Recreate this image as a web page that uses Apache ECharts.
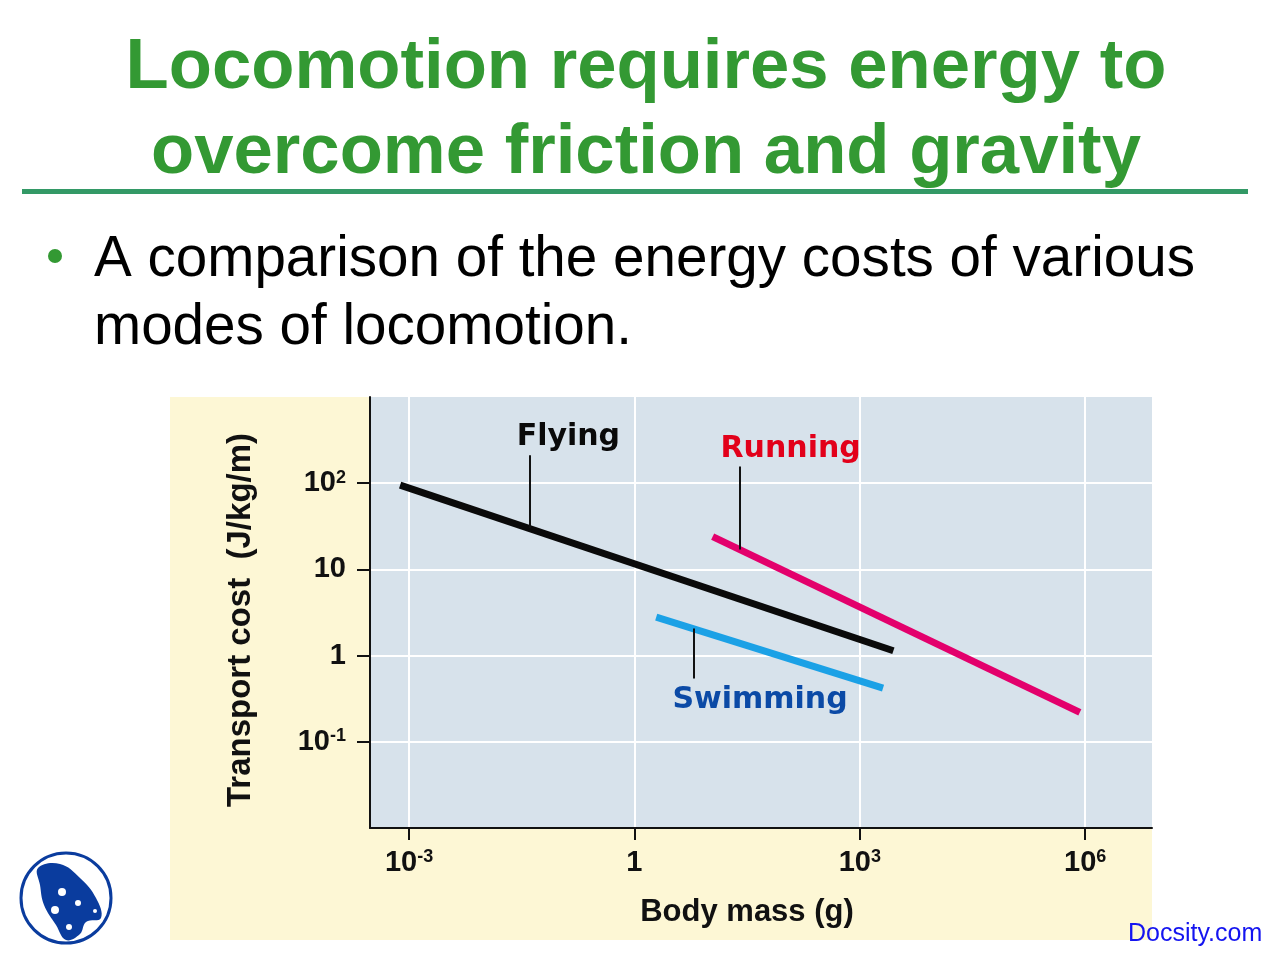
<!DOCTYPE html>
<html>
<head>
<meta charset="utf-8">
<script src="https://cdn.jsdelivr.net/npm/echarts@6/dist/echarts.min.js"></script>
<style>
  html, body { margin: 0; padding: 0; background: #fff; }
  #chart { width: 1280px; height: 960px; }
</style>
</head>
<body>
<div id="chart"></div>
<script>
// body mass (g) and transport cost (J/kg/m), end points of each fitted line
const flyingMass = [0.00076, 2800];
const flyingCost = [95, 1.14];
const runningMass = [11, 850000];
const runningCost = [24, 0.22];
const swimmingMass = [1.95, 2040];
const swimmingCost = [2.8, 0.42];

// tick values
const massTicks = [0.001, 1, 1000, 1000000];
const costTicks = [0.1, 1, 10, 100];

// callouts: leader line (mass, cost from, cost to) and label anchor (mass, cost)
const flyingLeader = [0.04, 30, 211];
const runningLeader = [25.1, 17, 156];
const swimmingLeader = [6.12, 2.06, 0.542];
const flyingLabelAt = [0.132, 340];
const runningLabelAt = [120, 245];
const swimmingLabelAt = [47, 0.3];

const sans = "'Liberation Sans', Arial, Helvetica, sans-serif";
const heavy = "'DejaVu Sans', sans-serif";

function zip(xs, ys) {
  return xs.map((x, i) => [x, ys[i]]);
}

function powLabel(v) {
  const e = Math.round(Math.log10(v));
  if (e === 0) return "{b|1}";
  if (e === 1) return "{b|10}";
  return "{b|10}{s|" + e + "}";
}

const tickRich = {
  b: { fontSize: 29, fontWeight: "bold", fontFamily: sans, color: "#111" },
  s: { fontSize: 18, fontWeight: "bold", fontFamily: sans, color: "#111", verticalAlign: "top" }
};

function callout(name, color, leader, at) {
  return {
    markLine: {
      silent: true,
      symbol: ["none", "none"],
      label: { show: false },
      lineStyle: { color: "#111", width: 2, type: "solid" },
      data: [[{ coord: [leader[0], leader[1]] }, { coord: [leader[0], leader[2]] }]]
    },
    markPoint: {
      silent: true,
      symbol: "circle",
      symbolSize: 0,
      label: {
        show: true,
        position: "inside",
        formatter: name,
        color: color,
        fontSize: 30,
        fontWeight: "bold",
        fontFamily: heavy
      },
      data: [{ coord: at }]
    }
  };
}

const chart = echarts.init(document.getElementById("chart"));

const lineSeries = (name, data, color, width, leader, at, labelColor) =>
  Object.assign(
    {
      name: name,
      type: "line",
      data: data,
      symbol: "none",
      silent: true,
      lineStyle: { color: color, width: width, cap: "butt" },
      z: 3
    },
    callout(name, labelColor, leader, at)
  );

chart.setOption({
  backgroundColor: "#fff",
  animation: false,
  graphic: [
    {
      type: "rect",
      z: -1,
      shape: { x: 170, y: 397, width: 982, height: 543 },
      style: { fill: "#fdf7d5" }
    },
    {
      type: "text",
      x: 646,
      y: 26,
      style: {
        text: "Locomotion requires energy to\novercome friction and gravity",
        fill: "#339933",
        font: "bold 70.7px " + sans,
        lineHeight: 85,
        align: "center"
      }
    },
    {
      type: "rect",
      shape: { x: 22, y: 189, width: 1226, height: 5 },
      style: { fill: "#339966" }
    },
    {
      type: "circle",
      shape: { cx: 55, cy: 256, r: 7 },
      style: { fill: "#339933" }
    },
    {
      type: "text",
      x: 94,
      y: 226,
      style: {
        text: "A comparison of the energy costs of various\nmodes of locomotion.",
        fill: "#000",
        font: "56.6px " + sans,
        lineHeight: 68
      }
    },
    {
      type: "text",
      x: 1128,
      y: 922,
      style: { text: "Docsity.com", fill: "#1414f0", font: "25px " + sans }
    },
    {
      type: "group",
      children: [
        {
          type: "circle",
          shape: { cx: 66, cy: 898, r: 45 },
          style: { fill: "#fff", stroke: "#0a3c9e", lineWidth: 3 }
        },
        {
          type: "polygon",
          shape: {
            smooth: 0.4,
            points: [[38, 868], [60, 864], [80, 878], [96, 898], [101, 918], [86, 922], [80, 934], [66, 940], [56, 925], [44, 905], [40, 885]]
          },
          style: { fill: "#0a3c9e" }
        },
        { type: "circle", shape: { cx: 62, cy: 892, r: 4 }, style: { fill: "#fff" } },
        { type: "circle", shape: { cx: 78, cy: 903, r: 3 }, style: { fill: "#fff" } },
        { type: "circle", shape: { cx: 55, cy: 910, r: 4 }, style: { fill: "#fff" } },
        { type: "circle", shape: { cx: 95, cy: 911, r: 2 }, style: { fill: "#fff" } },
        { type: "circle", shape: { cx: 69, cy: 927, r: 3 }, style: { fill: "#fff" } }
      ]
    }
  ],
  grid: {
    left: 370,
    top: 397,
    right: 128,
    bottom: 132,
    show: true,
    backgroundColor: "#d7e2eb",
    borderWidth: 0
  },
  xAxis: {
    type: "log",
    logBase: 10,
    min: Math.pow(10, -3.52),
    max: Math.pow(10, 6.89),
    name: "Body mass (g)",
    nameLocation: "middle",
    nameGap: 69,
    nameTextStyle: { fontSize: 31, fontWeight: "bold", fontFamily: sans, color: "#111", padding: [0, 28, 0, 0] },
    axisLine: { show: true, onZero: false, lineStyle: { color: "#111", width: 2 } },
    axisTick: { show: true, customValues: massTicks, length: 12, lineStyle: { color: "#111", width: 2 } },
    axisLabel: { customValues: massTicks, margin: 20, formatter: powLabel, rich: tickRich },
    splitLine: { show: true, lineStyle: { color: "#fff", width: 2 } },
    minorTick: { show: false },
    minorSplitLine: { show: false }
  },
  yAxis: {
    type: "log",
    logBase: 10,
    min: 0.01,
    max: 1000,
    name: "Transport cost  (J/kg/m)",
    nameLocation: "middle",
    nameGap: 113,
    nameTextStyle: { fontSize: 33, fontWeight: "bold", fontFamily: sans, color: "#111", padding: [0, 15, 0, 0] },
    axisLine: { show: true, onZero: false, lineStyle: { color: "#111", width: 2 } },
    axisTick: { show: true, customValues: costTicks, length: 13, lineStyle: { color: "#111", width: 2 } },
    axisLabel: { customValues: costTicks, margin: 24, formatter: powLabel, rich: tickRich },
    splitLine: { show: true, lineStyle: { color: "#fff", width: 2 } },
    minorTick: { show: false },
    minorSplitLine: { show: false }
  },
  series: [
    lineSeries("Flying", zip(flyingMass, flyingCost), "#0a0a0a", 7, flyingLeader, flyingLabelAt, "#0a0a0a"),
    lineSeries("Running", zip(runningMass, runningCost), "#e3006c", 7, runningLeader, runningLabelAt, "#e2001a"),
    lineSeries("Swimming", zip(swimmingMass, swimmingCost), "#1ba1e6", 7, swimmingLeader, swimmingLabelAt, "#0b4aa6")
  ]
});
</script>
</body>
</html>
